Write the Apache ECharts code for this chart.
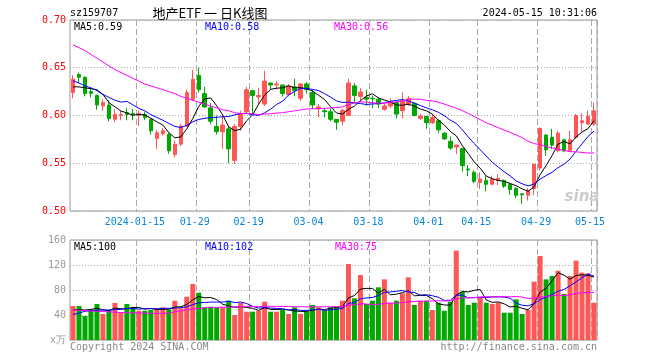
<!DOCTYPE html>
<html><head><meta charset="utf-8">
<script src="https://cdn.jsdelivr.net/npm/echarts@6/dist/echarts.min.js"></script>
<style>html,body{margin:0;padding:0;background:#fff}#c{width:660px;height:360px}</style>
</head><body><div id="c"></div>
<script>
const dates = ['2023-12-28','2023-12-29',
'2024-01-02','2024-01-03','2024-01-04','2024-01-05','2024-01-08','2024-01-09','2024-01-10','2024-01-11','2024-01-12','2024-01-15','2024-01-16','2024-01-17','2024-01-18','2024-01-19','2024-01-22','2024-01-23','2024-01-24','2024-01-25','2024-01-26','2024-01-29','2024-01-30','2024-01-31',
'2024-02-01','2024-02-02','2024-02-05','2024-02-06','2024-02-07','2024-02-08','2024-02-19','2024-02-20','2024-02-21','2024-02-22','2024-02-23','2024-02-26','2024-02-27','2024-02-28','2024-02-29',
'2024-03-01','2024-03-04','2024-03-05','2024-03-06','2024-03-07','2024-03-08','2024-03-11','2024-03-12','2024-03-13','2024-03-14','2024-03-15','2024-03-18','2024-03-19','2024-03-20','2024-03-21','2024-03-22','2024-03-25','2024-03-26','2024-03-27','2024-03-28','2024-03-29',
'2024-04-01','2024-04-02','2024-04-03','2024-04-08','2024-04-09','2024-04-10','2024-04-11','2024-04-12','2024-04-15','2024-04-16','2024-04-17','2024-04-18','2024-04-19','2024-04-22','2024-04-23','2024-04-24','2024-04-25','2024-04-26','2024-04-29','2024-04-30',
'2024-05-06','2024-05-07','2024-05-08','2024-05-09','2024-05-10','2024-05-13','2024-05-14','2024-05-15'];

const openP = [0.624,0.643,0.640,0.625,0.621,0.610,0.611,0.596,0.600,0.603,
0.602,0.600,0.601,0.596,0.576,0.581,0.580,0.559,0.570,0.589,
0.617,0.642,0.623,0.608,0.5885,0.583,0.586,0.553,0.5885,0.604,
0.626,0.6195,0.612,0.634,0.632,0.632,0.622,0.630,0.618,0.633,
0.624,0.607,0.605,0.604,0.596,0.594,0.600,0.631,0.620,0.619,
0.618,0.617,0.6065,0.610,0.6135,0.605,0.612,0.6125,0.597,0.599,
0.5925,0.5945,0.5815,0.573,0.567,0.5655,0.544,0.5405,0.530,0.532,
0.528,0.532,0.532,0.528,0.5235,0.518,0.5165,0.5235,0.545,0.5795,
0.577,0.563,0.5745,0.563,0.577,0.5925,0.591,0.591];
const closeP = [0.638,0.640,0.623,0.623,0.611,0.6135,0.597,0.601,0.601,0.601,
0.601,0.602,0.598,0.584,0.582,0.584,0.563,0.570,0.589,0.624,
0.638,0.627,0.609,0.594,0.583,0.590,0.565,0.5885,0.602,0.627,
0.621,0.621,0.636,0.632,0.633,0.623,0.631,0.626,0.633,0.627,
0.611,0.609,0.604,0.596,0.593,0.6055,0.634,0.621,0.6245,0.617,
0.6175,0.612,0.610,0.6145,0.6015,0.6155,0.6175,0.600,0.5995,0.5925,
0.598,0.585,0.5755,0.566,0.569,0.5475,0.543,0.531,0.5335,0.528,
0.5335,0.534,0.526,0.5225,0.5165,0.517,0.5215,0.549,0.5865,0.564,
0.569,0.5815,0.563,0.5745,0.600,0.5945,0.599,0.605];
const lowP = [0.618,0.634,0.620,0.619,0.606,0.605,0.594,0.593,0.595,0.595,
0.595,0.589,0.595,0.580,0.565,0.579,0.560,0.556,0.568,0.588,
0.615,0.624,0.608,0.591,0.580,0.565,0.550,0.549,0.584,0.602,
0.601,0.612,0.610,0.627,0.627,0.620,0.620,0.620,0.615,0.623,
0.607,0.598,0.598,0.594,0.585,0.590,0.600,0.614,0.614,0.610,
0.608,0.608,0.605,0.6075,0.597,0.597,0.610,0.599,0.5955,0.586,
0.591,0.5815,0.5745,0.564,0.5595,0.5415,0.5365,0.529,0.523,0.5205,
0.527,0.527,0.524,0.517,0.5135,0.5075,0.511,0.5165,0.5425,0.558,
0.565,0.5615,0.5615,0.562,0.5755,0.583,0.590,0.589];
const highP = [0.642,0.645,0.641,0.629,0.622,0.617,0.616,0.607,0.605,0.608,
0.607,0.605,0.604,0.597,0.585,0.587,0.582,0.574,0.591,0.627,
0.648,0.650,0.630,0.613,0.600,0.600,0.589,0.591,0.605,0.630,
0.627,0.629,0.647,0.634,0.636,0.632,0.633,0.6385,0.634,0.635,
0.627,0.612,0.608,0.607,0.596,0.607,0.6385,0.634,0.629,0.627,
0.621,0.619,0.612,0.618,0.615,0.6245,0.6205,0.614,0.6015,0.599,
0.6015,0.596,0.5825,0.578,0.569,0.5655,0.548,0.5425,0.5405,0.537,
0.537,0.5385,0.533,0.5295,0.525,0.518,0.524,0.549,0.5875,0.5805,
0.586,0.584,0.5755,0.584,0.6015,0.6025,0.605,0.6135];
const volume = [54.4,54.4,38.4,49,57.6,41.6,48,59.2,43.7,57.6,
52.3,46.9,46.9,48,51.2,52.3,49,62.9,50.7,69.3,
89.6,75.7,52.3,53.3,52.3,52.3,62.9,40,59.7,45.3,
45.3,46.9,61.3,45.3,45.3,48,41.6,52.3,41.6,45.9,
56,52.3,47.5,52.3,52.3,62.9,121.6,66.7,104,57.6,
62.9,84.3,97,59.7,62.9,74.7,100.3,56,62.9,62.9,
48,59.7,46.9,61.3,142.9,77.3,56,59.7,68.3,59.7,
57.6,59.7,43.7,43.7,65,41.6,48,93.3,134.4,97,
102.4,110.9,73.6,102.4,126.9,107.7,106.7,59.7];

// moving-average values for days before enough history is shown
const ma5Head = [0.630,0.630,0.629,0.628];
const ma10Head = [0.6365,0.634,0.631,0.629,0.626,0.622,0.619,0.616,0.614];
const ma30Head = [0.674,0.671,0.668,0.664,0.660,0.656,0.652,0.648,0.645,0.642,
0.639,0.636,0.633,0.631,0.629,0.627,0.625,0.623,0.620,0.618,
0.616,0.614,0.612,0.610,0.608,0.606,0.605,0.603,0.602];
const volMa5Head = [48,48.5,48,49];
const volMa10Head = [41,43,46,47,47.5,48,48,48.5,49];
const volMa30Head = [48,47.5,47,46.5,46,45.5,45,44.5,44,43.7,
43.5,43.3,43,42.8,42.7,42.5,43,45,46.5,48.5,
49.6,50.5,51.5,52,52.3,52.5,52.5,53,53.5];

const tickDates = ['2024-01-15','2024-01-29','2024-02-19','2024-03-04','2024-03-18','2024-04-01','2024-04-15','2024-04-29','2024-05-15'];
const tickLabels = ['2024-01-15','01-29','02-19','03-04','03-18','04-01','04-15','04-29','05-15'];
const priceTicks = [0.50,0.55,0.60,0.65,0.70];
const volTicks = [0,40,80,120,160];

function ma(vals, n, head){
  return vals.map((_, i) => {
    if (i < n - 1) return head[i];
    let s = 0; for (let j = i - n + 1; j <= i; j++) s += vals[j];
    return +(s / n).toFixed(4);
  });
}

const RED = '#ff5656', GREEN = '#00a800';
const MONO = '"DejaVu Sans Mono", monospace';
const tickIdx = new Set(tickDates.map(d => dates.indexOf(d)));
const isTick = (i) => tickIdx.has(i);

const chart = echarts.init(document.getElementById('c'), null, {renderer:'canvas'});
const vSplit = {show:true, interval:(i)=>isTick(i), lineStyle:{color:'#aaaaaa', type:[6,3], width:1}};
const hSplit = {show:true, lineStyle:{color:'#aaaaaa', type:[1,2], width:1}};

function txt(x, y, text, fill, align, font){
  return {type:'text', x:x, y:y, silent:true, z:100,
    style:{text:text, fill:fill, font:font || ('10px ' + MONO), textAlign:align||'left', textVerticalAlign:'middle'}};
}

chart.setOption({
  animation:false,
  backgroundColor:'#fff',
  grid:[
    {left:70, right:63, top:20, height:191, show:true, borderColor:'#999', borderWidth:1, backgroundColor:'transparent'},
    {left:70, right:63, top:240, height:100, show:true, borderColor:'#999', borderWidth:1, backgroundColor:'transparent'}
  ],
  xAxis:[
    {type:'category', gridIndex:0, data:dates, boundaryGap:true,
     axisLine:{show:false}, axisTick:{show:false},
     axisLabel:{interval:(i)=>isTick(i), color:'#0a88d6', fontFamily:MONO, fontSize:10, margin:6, padding:[0,8,0,0],
       formatter:(v)=>{const k = tickDates.indexOf(v); return k>=0 ? tickLabels[k] : '';}},
     splitLine:vSplit},
    {type:'category', gridIndex:1, data:dates, boundaryGap:true,
     axisLine:{show:false}, axisTick:{show:false}, axisLabel:{show:false},
     splitLine:vSplit}
  ],
  yAxis:[
    {type:'value', gridIndex:0, min:priceTicks[0], max:priceTicks[priceTicks.length-1], interval:0.05,
     axisLine:{show:false}, axisTick:{show:false},
     axisLabel:{color:'#ff0000', fontFamily:MONO, fontSize:10, margin:4, formatter:(v)=>v.toFixed(2)},
     splitLine:hSplit},
    {type:'value', gridIndex:1, min:volTicks[0], max:volTicks[volTicks.length-1], interval:40,
     axisLine:{show:false}, axisTick:{show:false},
     axisLabel:{color:'#999999', fontFamily:MONO, fontSize:10, margin:4, formatter:(v)=> v===0 ? 'x万' : String(v)},
     splitLine:hSplit}
  ],
  series:[
    {type:'candlestick', xAxisIndex:0, yAxisIndex:0, barWidth:4,
     data: dates.map((d,i)=>[openP[i], closeP[i], lowP[i], highP[i]]),
     itemStyle:{color:RED, color0:GREEN, borderColor:RED, borderColor0:GREEN, borderWidth:1}},
    {type:'line', name:'MA5', xAxisIndex:0, yAxisIndex:0, data:ma(closeP,5,ma5Head), showSymbol:false, symbol:'none', lineStyle:{color:'#000', width:1}, z:5},
    {type:'line', name:'MA10', xAxisIndex:0, yAxisIndex:0, data:ma(closeP,10,ma10Head), showSymbol:false, symbol:'none', lineStyle:{color:'#0000ff', width:1}, z:5},
    {type:'line', name:'MA30', xAxisIndex:0, yAxisIndex:0, data:ma(closeP,30,ma30Head), showSymbol:false, symbol:'none', lineStyle:{color:'#ff00ff', width:1}, z:5},
    {type:'bar', xAxisIndex:1, yAxisIndex:1, barWidth:5,
     data: volume.map((v,i)=>({value:v, itemStyle:{color: closeP[i]>=openP[i] ? RED : GREEN}}))},
    {type:'line', xAxisIndex:1, yAxisIndex:1, data:ma(volume,5,volMa5Head), showSymbol:false, symbol:'none', lineStyle:{color:'#000', width:1}, z:5},
    {type:'line', xAxisIndex:1, yAxisIndex:1, data:ma(volume,10,volMa10Head), showSymbol:false, symbol:'none', lineStyle:{color:'#0000ff', width:1}, z:5},
    {type:'line', xAxisIndex:1, yAxisIndex:1, data:ma(volume,30,volMa30Head), showSymbol:false, symbol:'none', lineStyle:{color:'#ff00ff', width:1}, z:5}
  ],
  graphic:[
    txt(70, 13, 'sz159707', '#000'),
    txt(210, 13, '地产ETF 一 日K线图', '#000', 'center', '13px "Noto Sans CJK SC", sans-serif'),
    txt(597, 13, '2024-05-15 10:31:06', '#000', 'right'),
    txt(74, 27, 'MA5:0.59', '#000'),
    txt(205, 27, 'MA10:0.58', '#0000ff'),
    txt(334, 27, 'MA30:0.56', '#ff00ff'),
    txt(74, 247, 'MA5:100', '#000'),
    txt(205, 247, 'MA10:102', '#0000ff'),
    txt(335, 247, 'MA30:75', '#ff00ff'),
    txt(70, 347, 'Copyright 2024 SINA.COM', '#888'),
    txt(597, 347, 'http://finance.sina.com.cn', '#888', 'right'),
    txt(582, 197, 'sina', '#cccccc', 'center', 'italic bold 15px "DejaVu Sans", sans-serif')
  ]
});
</script></body></html>
